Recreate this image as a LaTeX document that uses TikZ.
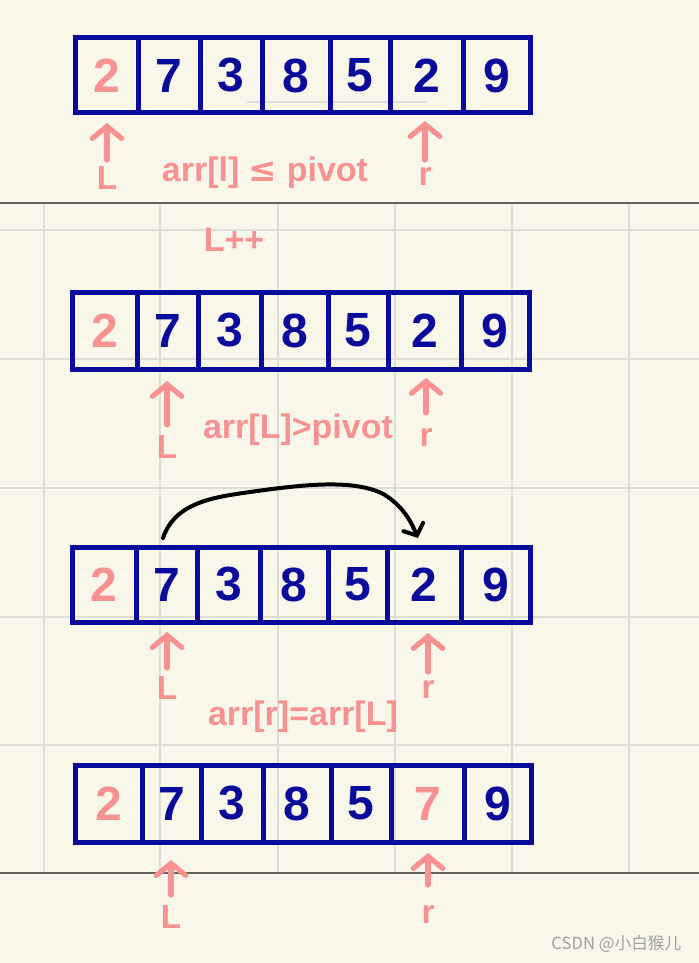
\documentclass[tikz,border=0pt]{standalone}
\usepackage{fontspec}
\setmainfont{Liberation Sans}
\newfontfamily\cjk{Noto Sans CJK SC}
\newfontfamily\dv{DejaVu Sans}
\usetikzlibrary{arrows.meta}
\definecolor{bgc}{RGB}{249,247,234}
\definecolor{gridc}{RGB}{222,222,216}
\definecolor{rulec}{RGB}{100,100,95}
\definecolor{navy}{RGB}{10,10,155}
\definecolor{pk}{RGB}{248,146,146}
\definecolor{wm}{RGB}{160,160,160}
\tikzset{
  cell/.style={draw=navy, line width=3.75pt, inner sep=0pt, font=\fontsize{36}{36}\selectfont\bfseries},
  ptr/.style={draw=pk, line width=3.9pt, line cap=round, -{Straight Barb[length=9pt,width=22pt,line cap=round]}},
  ptrlab/.style={text=pk, font=\fontsize{25}{25}\selectfont\bfseries},
  note/.style={text=pk, font=\fontsize{25.5}{25.5}\selectfont\bfseries},
  swaparc/.style={draw=black, line width=3pt, line cap=round, -{Straight Barb[length=7pt,width=16pt,line cap=round]}},
  gridline/.style={draw=gridc, line width=0.9pt},
  ruleline/.style={draw=rulec, line width=1.1pt},
}
\newcommand{\drawarr}[4]{%
  \foreach \l/\r/\v/\c [count=\i] in {#4} {
    \node[cell, text=\c, minimum width={(\r-\l)*0.75pt}, minimum height={(#3-#2)*0.75pt}] (#1\i) at ({(\l+\r)/2},{(#2+#3)/2}) {\v};
  }}
\begin{document}
\begin{tikzpicture}[x=0.75pt,y=-0.75pt]
\fill[bgc] (0,0) rectangle (699,963);
\useasboundingbox (0,0) rectangle (699,963);
% grid
\foreach \gx in {44,160,278,395,512,629} \draw[gridline] (\gx,203) -- (\gx,873);
\foreach \gy in {230,359,488,617,745} \draw[gridline] (0,\gy) -- (699,\gy);
\draw[ruleline] (0,203) -- (699,203);
\draw[ruleline] (0,873) -- (699,873);
\draw[gridc, line width=1pt] (247,102) -- (427,102);
% arrays
\drawarr{a}{38}{113}{75/138/2/pk, 138/200/7/navy, 200/262/3/navy, 262/330/8/navy, 330/390/5/navy, 390/463/2/navy, 463/530/9/navy}
\drawarr{b}{292}{369}{72/137/2/pk, 137/198/7/navy, 198/261/3/navy, 261/328/8/navy, 328/388/5/navy, 388/461/2/navy, 461/529/9/navy}
\drawarr{c}{547}{622}{72/136/2/pk, 136/197/7/navy, 197/260/3/navy, 260/328/8/navy, 328/387/5/navy, 387/461/2/navy, 461/530/9/navy}
\drawarr{d}{765}{842}{75/142/2/pk, 142/201/7/navy, 201/263/3/navy, 263/331/8/navy, 331/391/5/navy, 391/464/7/pk, 464/531/9/navy}
% pointers array a
\coordinate (aLb) at (107,160); \coordinate (aLt) at (107,123);
\coordinate (aRb) at (425,160); \coordinate (aRt) at (425,121);
\draw[ptr] (aLb) -- (aLt);
\draw[ptr] (aRb) -- (aRt);
\node[ptrlab] (aL) at (107,178) {L};
\node[ptrlab] (aR) at (425,177) {r};
\node[note] (n1) at (265,173) {arr[l] {\dv ≤} pivot};
\node[note] (n2) at (234,240) {L++};
% pointers array b
\coordinate (bLb) at (167,425); \coordinate (bLt) at (167,381);
\coordinate (bRb) at (426,413); \coordinate (bRt) at (426,378);
\draw[ptr] (bLb) -- (bLt);
\draw[ptr] (bRb) -- (bRt);
\node[ptrlab] (bL) at (167,447) {L};
\node[ptrlab] (bR) at (426,438) {r};
\node[note] (n3) at (298,430) {arr[L]>pivot};
% swap arc array c
\coordinate (cs) at (163,538);
\coordinate (ce) at (418,538);
\draw[swaparc] (cs) .. controls (175,502) and (215,497) .. (250,492)
  .. controls (300,485) and (355,478) .. (385,495)
  .. controls (405,508) and (412,524) .. (ce);
% pointers array c
\coordinate (cLb) at (167,668); \coordinate (cLt) at (167,632);
\coordinate (cRb) at (428,672); \coordinate (cRt) at (428,633);
\draw[ptr] (cLb) -- (cLt);
\draw[ptr] (cRb) -- (cRt);
\node[ptrlab] (cL) at (167,688) {L};
\node[ptrlab] (cR) at (428,690) {r};
\node[note] (n4) at (303,717) {arr[r]=arr[L]};
% pointers array d
\coordinate (dLb) at (171,895); \coordinate (dLt) at (171,860);
\coordinate (dRb) at (428,885); \coordinate (dRt) at (428,853);
\draw[ptr] (dLb) -- (dLt);
\draw[ptr] (dRb) -- (dRt);
\node[ptrlab] (dL) at (171,917) {L};
\node[ptrlab] (dR) at (428,915) {r};
% watermark
\node[anchor=east, text=wm, font=\cjk\fontsize{12.5}{12.5}\selectfont] (wm) at (686,944) {CSDN @小白猴儿};
\end{tikzpicture}
\end{document}
